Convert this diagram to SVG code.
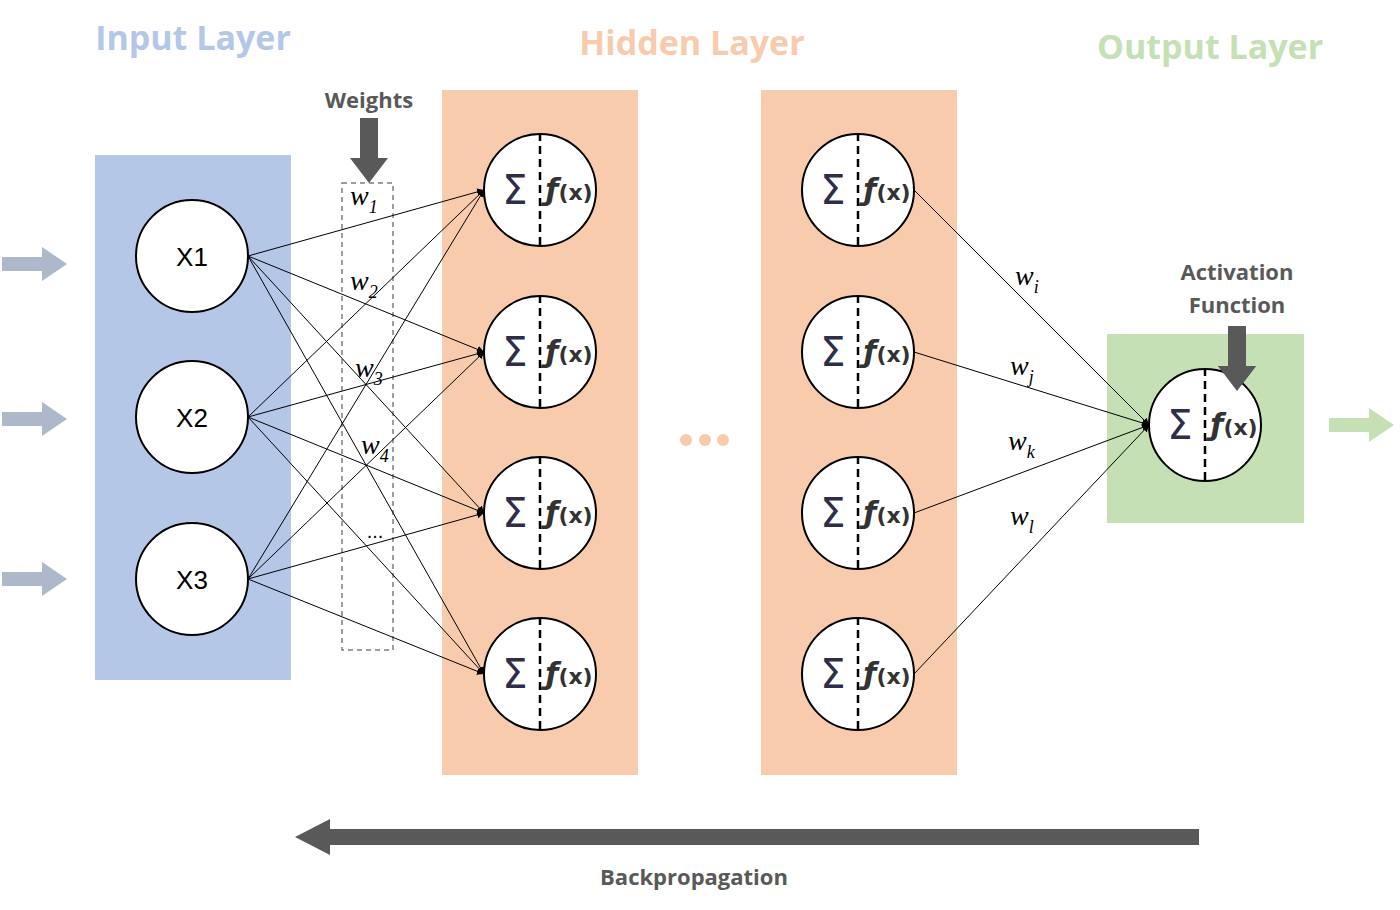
<svg xmlns="http://www.w3.org/2000/svg" xmlns:xlink="http://www.w3.org/1999/xlink" width="1400" height="910" viewBox="0 0 1400 910">
<style>
.t{font-family:"Open Sans","Liberation Sans",sans-serif;font-weight:bold;text-anchor:middle}
.lbl{font-family:"Open Sans","Liberation Sans",sans-serif;font-weight:bold;fill:#595959;font-size:22px;text-anchor:middle}
.c{fill:#fff;stroke:#000;stroke-width:2}
.x{font-family:"Liberation Sans",sans-serif;font-size:26px;text-anchor:middle}
.w{font-family:"Liberation Serif",serif;font-style:italic;font-size:28px}
.w sub,.s{font-size:18px}
.e{stroke:#000;stroke-width:1;fill:none}
</style>
<defs>
<marker id="ah" viewBox="0 0 10 10" refX="10" refY="5" markerWidth="7" markerHeight="7" orient="auto"><path d="M0,0L10,5L0,10z" fill="#000"/></marker>
<g id="neu">
<circle r="56" class="c"/>
<line x1="0" y1="-57" x2="0" y2="57" stroke="#000" stroke-width="2.5" stroke-dasharray="8,5"/>
<text x="-25" y="14" font-family="DejaVu Sans,sans-serif" font-size="40" fill="#2e2e48" text-anchor="middle">Σ</text>
<text x="29" y="10" font-family="DejaVu Sans,sans-serif" font-style="italic" font-weight="bold" font-size="30" fill="#333" text-anchor="middle">ƒ<tspan font-size="22" font-style="normal">(x)</tspan></text>
</g>
</defs>
<rect width="1400" height="910" fill="#fff"/>
<text class="t" x="193" y="50" font-size="34" fill="#b4c7e7">Input Layer</text>
<text class="t" x="692" y="55" font-size="34" fill="#f8cbad">Hidden Layer</text>
<text class="t" x="1210" y="59" font-size="34" fill="#c5e0b4">Output Layer</text>
<rect x="95" y="155" width="196" height="525" fill="#b4c7e7"/>
<rect x="442" y="90" width="196" height="685" fill="#f8cbad"/>
<rect x="761" y="90" width="196" height="685" fill="#f8cbad"/>
<rect x="1107" y="334" width="197" height="189" fill="#c5e0b4"/>
<g fill="#adb9ca">
<path d="M2,257h40v-10l25,17l-25,17v-10h-40z"/>
<path d="M2,412h40v-10l25,17l-25,17v-10h-40z"/>
<path d="M2,572h40v-10l25,17l-25,17v-10h-40z"/>
</g>
<path d="M1329,418h40v-10l25,17l-25,17v-10h-40z" fill="#c5e0b4"/>
<rect x="342" y="183" width="51" height="467" fill="none" stroke="#7f7f7f" stroke-width="1.5" stroke-dasharray="5,4"/>
<text class="lbl" x="369" y="108">Weights</text>
<path d="M360,118h18v40h10l-19,25l-19,-25h10z" fill="#595959"/>
<text class="lbl" x="1237" y="280">Activation</text>
<text class="lbl" x="1237" y="313">Function</text>
<path d="M1228,326h18v40h10l-19,25l-19,-25h10z" fill="#595959"/>
<g id="connectors">
<g class="e">
<line x1="248" y1="256" x2="484" y2="190" marker-end="url(#ah)"/>
<line x1="248" y1="256" x2="484" y2="352" marker-end="url(#ah)"/>
<line x1="248" y1="256" x2="484" y2="513" marker-end="url(#ah)"/>
<line x1="248" y1="256" x2="484" y2="674" marker-end="url(#ah)"/>
<line x1="248" y1="417" x2="484" y2="190" marker-end="url(#ah)"/>
<line x1="248" y1="417" x2="484" y2="352" marker-end="url(#ah)"/>
<line x1="248" y1="417" x2="484" y2="513" marker-end="url(#ah)"/>
<line x1="248" y1="417" x2="484" y2="674" marker-end="url(#ah)"/>
<line x1="248" y1="579" x2="484" y2="190" marker-end="url(#ah)"/>
<line x1="248" y1="579" x2="484" y2="352" marker-end="url(#ah)"/>
<line x1="248" y1="579" x2="484" y2="513" marker-end="url(#ah)"/>
<line x1="248" y1="579" x2="484" y2="674" marker-end="url(#ah)"/>
<line x1="914" y1="190" x2="1149" y2="425" marker-end="url(#ah)"/>
<line x1="914" y1="352" x2="1149" y2="425" marker-end="url(#ah)"/>
<line x1="914" y1="513" x2="1149" y2="425" marker-end="url(#ah)"/>
<line x1="914" y1="674" x2="1149" y2="425" marker-end="url(#ah)"/>
</g>
<path d="M1199,829V845H330V855L295,837L330,819V829z" fill="#595959"/>
</g>
<g class="w">
<text x="350" y="205">w<tspan class="s" dy="8">1</tspan></text>
<text x="350" y="290">w<tspan class="s" dy="8">2</tspan></text>
<text x="355" y="377">w<tspan class="s" dy="8">3</tspan></text>
<text x="361" y="454">w<tspan class="s" dy="8">4</tspan></text>
<text x="1015" y="285">w<tspan class="s" dy="8">i</tspan></text>
<text x="1010" y="375">w<tspan class="s" dy="8">j</tspan></text>
<text x="1008" y="450">w<tspan class="s" dy="8">k</tspan></text>
<text x="1010" y="525">w<tspan class="s" dy="8">l</tspan></text>
</g>
<text x="375" y="538" font-family="Liberation Sans,sans-serif" font-size="20" text-anchor="middle">...</text>
<g fill="#f8cbad"><circle cx="686" cy="440" r="6"/><circle cx="705" cy="440" r="6"/><circle cx="723" cy="440" r="6"/></g>
<g id="in1"><circle cx="192" cy="256" r="56" class="c"/><text class="x" x="192" y="266">X1</text></g>
<g id="in2"><circle cx="192" cy="417" r="56" class="c"/><text class="x" x="192" y="427">X2</text></g>
<g id="in3"><circle cx="192" cy="579" r="56" class="c"/><text class="x" x="192" y="589">X3</text></g>
<g id="h1a"><use xlink:href="#neu" x="540" y="190"/></g>
<g id="h1b"><use xlink:href="#neu" x="540" y="352"/></g>
<g id="h1c"><use xlink:href="#neu" x="540" y="513"/></g>
<g id="h1d"><use xlink:href="#neu" x="540" y="674"/></g>
<g id="h2a"><use xlink:href="#neu" x="858" y="190"/></g>
<g id="h2b"><use xlink:href="#neu" x="858" y="352"/></g>
<g id="h2c"><use xlink:href="#neu" x="858" y="513"/></g>
<g id="h2d"><use xlink:href="#neu" x="858" y="674"/></g>
<g id="out"><use xlink:href="#neu" x="1205" y="425"/></g>
<path d="M1228,326h18v40h10l-19,25l-19,-25h10z" fill="#595959"/>
<text class="lbl" x="694" y="885">Backpropagation</text>
</svg>
